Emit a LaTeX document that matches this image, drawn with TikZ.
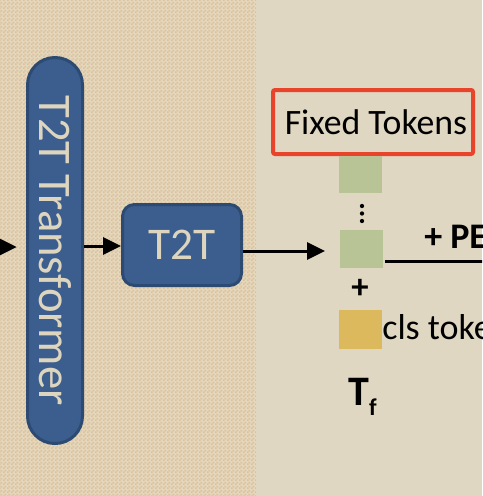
\documentclass[tikz,border=0pt]{standalone}
\usepackage{fontspec}
\setmainfont{Carlito}
\usetikzlibrary{arrows.meta,patterns}
\pgfdeclarepatternformonly{finechecker}{\pgfqpoint{0pt}{0pt}}{\pgfqpoint{3pt}{3pt}}{\pgfqpoint{3pt}{3pt}}{%
  \pgfpathrectangle{\pgfqpoint{0pt}{0pt}}{\pgfqpoint{1.5pt}{1.5pt}}%
  \pgfpathrectangle{\pgfqpoint{1.5pt}{1.5pt}}{\pgfqpoint{1.5pt}{1.5pt}}%
  \pgfusepath{fill}}
\definecolor{bgright}{HTML}{DFD7C1}
\definecolor{bglight}{HTML}{E3D7BC}
\definecolor{bgtan}{HTML}{DDBF9C}
\definecolor{blockfill}{HTML}{3B5E8E}
\definecolor{blockline}{HTML}{2C4A72}
\definecolor{blocktext}{HTML}{DDD5BE}
\definecolor{tokgreen}{HTML}{B8C496}
\definecolor{clsgold}{HTML}{DDB95E}
\definecolor{fixedred}{HTML}{E8432B}
\begin{document}
\begin{tikzpicture}[x=0.75pt,y=-0.75pt,
  block/.style={draw=blockline, fill=blockfill, line width=2.25pt, inner sep=0pt,
    text=blocktext},
  token/.style={fill=#1, inner sep=0pt, minimum width=32.25pt},
  arr/.style={line width=2.25pt, -{Triangle[length=13.5pt,width=12.75pt]}},
  plainline/.style={line width=2.25pt}]
\clip (0,0) rectangle (482,496);
\fill[bglight] (0,0) rectangle (256,496);
\fill[pattern=finechecker, pattern color=bgtan] (0,0) rectangle (256,496);
\fill[bgright] (256,0) rectangle (482,496);

% blocks
\node[block, rounded corners=20.5pt, minimum width=41.25pt, minimum height=289.5pt,
  font=\fontsize{35pt}{40pt}\selectfont] (pill) at (55,250.5)
  {\rotatebox{-90}{T2T Transformer}};
\node[block, rounded corners=9pt, minimum width=89.25pt, minimum height=60.75pt,
  font=\fontsize{34pt}{40pt}\selectfont] (t2t) at (182,245) {T2T};

% tokens
\node[draw=fixedred, line width=3pt, rounded corners=1.5pt, inner sep=0pt,
  minimum width=150pt, minimum height=48pt, font=\fontsize{26.8pt}{30pt}\selectfont] (fixed) at (373,122)
  {\hspace*{4.5pt}Fixed Tokens};
\node[token=tokgreen, minimum height=27.75pt] (g1) at (360.5,174.5) {};
\node[token=tokgreen, minimum height=28.5pt] (g2) at (361.5,249) {};
\node[token=clsgold, minimum height=29.25pt] (cls) at (360.5,329.5) {};
\fill (362,206) circle[radius=1.6pt] (362,213.5) circle[radius=1.6pt] (362,221) circle[radius=1.6pt];

% texts
\node[anchor=base west, inner sep=0pt, font=\bfseries\fontsize{27pt}{32pt}\selectfont] (pe) at (424,248) {+ PE};
\node[inner sep=0pt, font=\bfseries\fontsize{26pt}{30pt}\selectfont] (plus) at (360,288.5) {+};
\node[anchor=base west, inner sep=0pt, font=\fontsize{27pt}{32pt}\selectfont] (clstxt) at (382,339) {cls token};
\node[anchor=base west, inner sep=0pt] (tf) at (348,405)
  {\fontsize{31.5pt}{36pt}\selectfont\bfseries T\raisebox{-7.5pt}{\fontsize{18pt}{20pt}\selectfont\bfseries f}};

% connectors
\coordinate (in) at (-10,247);
\coordinate (a2) at (0,246);
\coordinate (a3) at (325,251);
\coordinate (peend) at (490,261);
\draw[arr, shorten >=7pt] (in) -- (in -| pill.west);
\draw[arr] (pill.east |- a2) -- (t2t.west |- a2);
\draw[arr] (t2t.east |- a3) -- (a3);
\draw[plainline] ([xshift=1.5pt]g2.east |- peend) -- (peend);
\end{tikzpicture}
\end{document}
